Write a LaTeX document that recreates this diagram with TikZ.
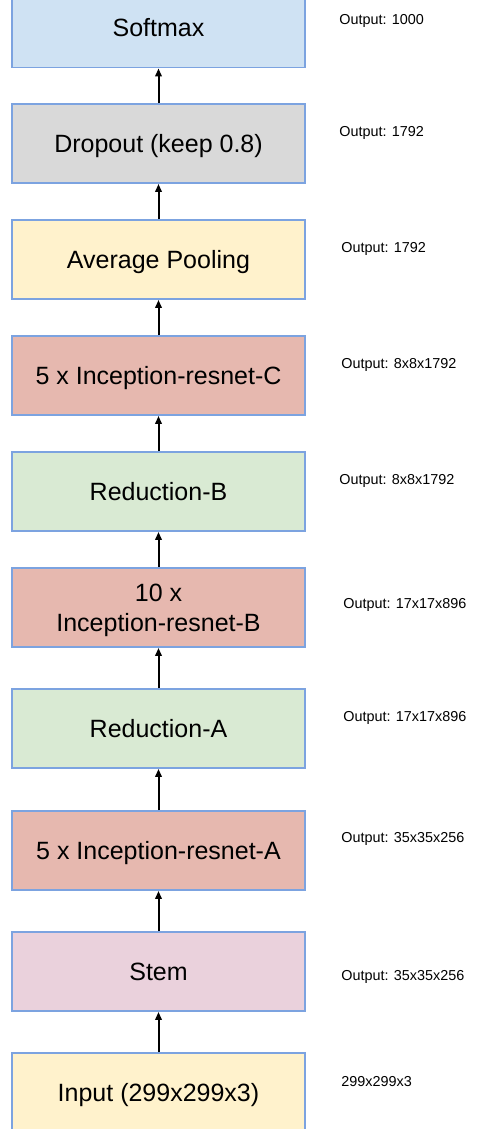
\documentclass[tikz,border=0pt]{standalone}
\usepackage{fontspec}
\setmainfont{Liberation Sans}
\usetikzlibrary{arrows.meta}
\definecolor{edgeblue}{HTML}{7CA3E0}
\definecolor{softblue}{HTML}{CFE2F3}
\definecolor{dropgrey}{HTML}{D9D9D9}
\definecolor{poolyellow}{HTML}{FFF2CC}
\definecolor{blockred}{HTML}{E6B8AF}
\definecolor{reducegreen}{HTML}{D9EAD3}
\definecolor{stempink}{HTML}{EAD1DC}
\tikzset{layer/.style={draw=edgeblue, line width=0.9pt, minimum width=146.5pt,
    minimum height=39.5pt, inner sep=0pt, align=center,
    text height=11.5pt, text depth=2.5pt,
    font=\fontsize{12.5}{15}\selectfont},
  outlabel/.style={anchor=west, inner sep=0pt, font=\fontsize{7.2}{8.6}\selectfont}}

\begin{document}
\begin{tikzpicture} [>={Triangle[length=4pt,width=3.2pt]}, x=0.5pt, y=-0.5pt]
\useasboundingbox (0,0) rectangle (493,1129);
\node[layer, fill=softblue] (softmax) at (158.5,28) {Softmax};
\node[layer, fill=dropgrey] (dropout) at (158.5,143.5) {Dropout (keep 0.8)};
\node[layer, fill=poolyellow] (avgpool) at (158.5,259.5) {Average Pooling};
\node[layer, fill=blockred] (incC) at (158.5,375.5) {5 x Inception-resnet-C};
\node[layer, fill=reducegreen] (redB) at (158.5,491.5) {Reduction-B};
\node[layer, fill=blockred, text height=26.5pt] (incB) at (158.5,607.5) {10 x\\Inception-resnet-B};
\node[layer, fill=reducegreen] (redA) at (158.5,728.5) {Reduction-A};
\node[layer, fill=blockred] (incA) at (158.5,850.5) {5 x Inception-resnet-A};
\node[layer, fill=stempink] (stem) at (158.5,971.5) {Stem};
\node[layer, fill=poolyellow] (input) at (158.5,1092.5) {Input (299x299x3)};
% shapes beside the blocks
\node[outlabel] (softmaxout) at (339,21) {Output: 1000};
\node[outlabel] (dropoutout) at (339,133) {Output: 1792};
\node[outlabel] (avgpoolout) at (341,249) {Output: 1792};
\node[outlabel] (incCout) at (341,365) {Output: 8x8x1792};
\node[outlabel] (redBout) at (339,481) {Output: 8x8x1792};
\node[outlabel] (incBout) at (343,605) {Output: 17x17x896};
\node[outlabel] (redAout) at (343,718) {Output: 17x17x896};
\node[outlabel] (incAout) at (341,839) {Output: 35x35x256};
\node[outlabel] (stemout) at (341,977) {Output: 35x35x256};
\node[outlabel] (inputout) at (341,1082) {299x299x3};
% arrows
\draw[->, line width=1pt] (dropout) -- (softmax);
\draw[->, line width=1pt] (avgpool) -- (dropout);
\draw[->, line width=1pt] (incC) -- (avgpool);
\draw[->, line width=1pt] (redB) -- (incC);
\draw[->, line width=1pt] (incB) -- (redB);
\draw[->, line width=1pt] (redA) -- (incB);
\draw[->, line width=1pt] (incA) -- (redA);
\draw[->, line width=1pt] (stem) -- (incA);
\draw[->, line width=1pt] (input) -- (stem);
\end{tikzpicture}
\end{document}
